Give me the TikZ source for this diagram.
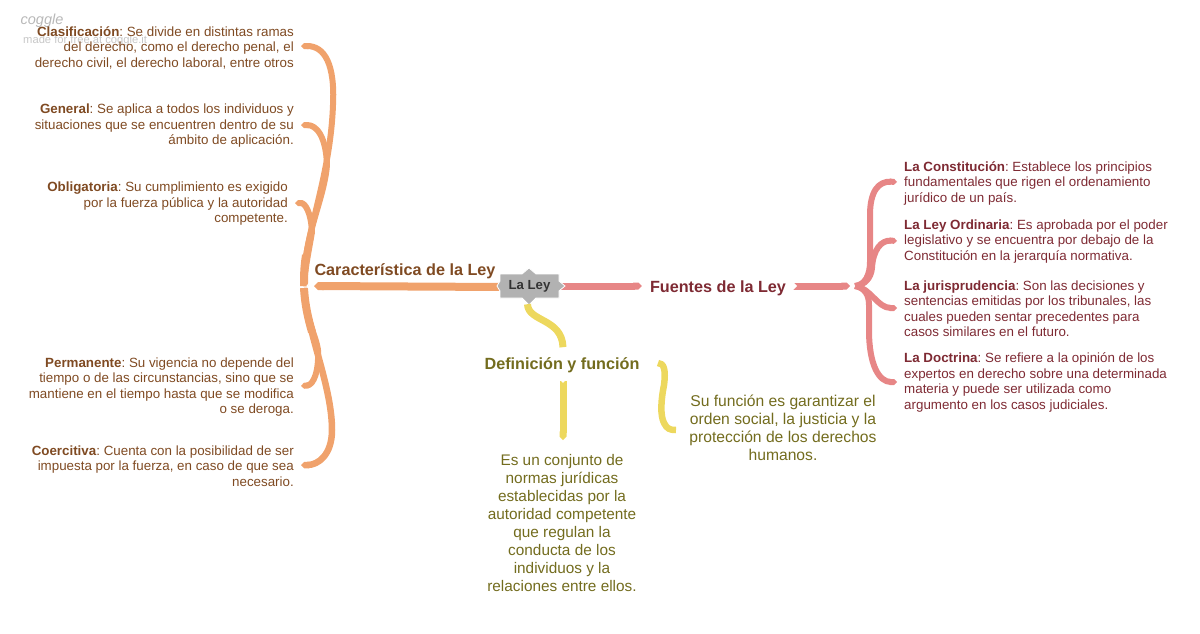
\documentclass[tikz,border=0pt]{standalone}
\usepackage{fontspec}
\setmainfont{Liberation Sans}
\usetikzlibrary{arrows.meta,calc}
\definecolor{orangeL}{HTML}{F0A26C}
\definecolor{orangeT}{HTML}{7F4A22}
\definecolor{redL}{HTML}{E78686}
\definecolor{redT}{HTML}{7E2A33}
\definecolor{yelL}{HTML}{EDD85E}
\definecolor{yelT}{HTML}{736C1E}
\tikzset{
  small/.style={inner sep=0pt,font=\fontsize{13.35}{15.5}\selectfont},
  leafL/.style={small,anchor=east,align=right,text=orangeT},
  leafR/.style={small,anchor=west,align=left,text=redT},
  yelbody/.style={inner sep=0pt,align=center,text=yelT},
  head/.style={inner sep=0pt,font=\fontsize{16.2}{19}\selectfont\bfseries},
  brO/.style={draw=orangeL,line width=6pt,{Triangle Cap[]}-,line join=round},
  brR/.style={draw=redL,line width=6pt,{Triangle Cap[]}-,line join=round},
  brY/.style={draw=yelL,line width=7pt,line join=round},
  chev/.style={draw=white,line width=1pt,fill=none}
}
\begin{document}
\frenchspacing
\begin{tikzpicture}[x=1pt,y=-1pt]
\useasboundingbox (0,0) rectangle (1200,633);
% watermark
\node[inner sep=0pt,text=black!28,font=\fontsize{14.5}{18}\selectfont\itshape] (wm1) at (42,21) {coggle};
\node[inner sep=0pt,text=black!22,anchor=west,font=\fontsize{11.2}{14}\selectfont] (wm2) at (23,41) {made for free at coggle.it};
% named end points
\coordinate (rootL) at (304,286);
\coordinate (rootR) at (855,286);
\coordinate (cCl) at (301,46);
\coordinate (cGe) at (301,125);
\coordinate (cOb) at (295,203);
\coordinate (cPe) at (301,386);
\coordinate (cCo) at (301,465);
\coordinate (cCn) at (897,182);
\coordinate (cOr) at (897,241);
\coordinate (cJu) at (897,308);
\coordinate (cDo) at (897,382);
\coordinate (cY1) at (658,363);
\coordinate (cY2) at (676,430);
% left branches
\draw[brO] (cCl) .. controls (325,46) and (335,65) .. (333,105) .. controls (331,160) and (316,205) .. (308,245) .. controls (305,260) and (304,272) .. (rootL);
\draw[brO] (cGe) .. controls (317,125) and (326,137) .. (327,165) .. controls (325,190) and (314,215) .. (308,245) .. controls (305,260) and (304,272) .. (rootL);
\draw[brO] (cOb) .. controls (305,203) and (311,212) .. (312,232) .. controls (309,250) and (305,268) .. (rootL);
\draw[brO,line width=6.5pt] (cCo) .. controls (318,465) and (332,455) .. (332,430) .. controls (332,385) and (306,330) .. (304,288);
\draw[brO] (cPe) .. controls (314,385) and (319,370) .. (318,350) .. controls (316,335) and (305,318) .. (304,288);
\draw[draw=orangeL,line width=8pt] (306,255) .. controls (304,268) and (304,276) .. (rootL);
\draw[draw=orangeL,line width=8pt] (304,288) .. controls (305,305) and (308,318) .. (312,332);
% right branches
\draw[brR] (cCn) .. controls (878,181) and (870,192) .. (870,215) -- (870,262) .. controls (870,275) and (865,285) .. (rootR);
\draw[brR] (cOr) .. controls (881,240) and (873,250) .. (872,268) .. controls (871,278) and (865,285) .. (rootR);
\draw[brR] (cJu) .. controls (877,308) and (871,288) .. (rootR);
\draw[brR] (cDo) .. controls (879,382) and (869,365) .. (869,330) -- (869,305) .. controls (869,295) and (865,288) .. (rootR);
% heads
\node[head,text=orangeT] (car) at (405,271) {Característica de la Ley};
\node[head,text=redT] (fue) at (718,288) {Fuentes de la Ley};
\node[head,text=yelT] (def) at (562,365) {Definición y función};
% central node
\coordinate (leyC) at (529.5,286);
% main connectors
\draw[draw=orangeL,line width=8pt,{Triangle Cap[]}-] ($(rootL)+(10,0)$) -- ($(leyC)+(-25,1)$);
\draw[draw=redL,line width=7pt,-{Triangle Cap[]}] ($(leyC)+(25,0)$) -- ($(fue.west)+(-8,-2)$);
\draw[draw=redL,line width=7pt,-{Triangle Cap[]}] ($(fue.east)+(7,-2)$) -- ($(rootR)+(-5,0)$);
\fill[white] (792,281) -- (797,286) -- (792,291) -- cycle;
\draw[chev] (311,281) -- (307,286) -- (311,291);
\draw[chev] (850,281) -- (854.5,286) -- (850,291);
\fill[black!30,draw=white,line width=0.8pt] (529,268) -- (536,274) -- (559,274) -- (559,281) -- (565,286) -- (559,291) -- (559,298) -- (536,298) -- (529,305) -- (522,298) -- (500,298) -- (500,291) -- (497,286) -- (500,281) -- (500,274) -- (522,274) -- cycle;
\node[minimum width=59pt,minimum height=24pt,inner sep=0pt,text=black!80,font=\fontsize{13.2}{15}\selectfont\bfseries] (ley) at (leyC) {La Ley};
% yellow
\draw[brY] ($(ley.south)+(-2,6)$) .. controls (528,322) and (562,318) .. ($(def.north)+(1,-10)$);
\draw[brY,line width=7pt,-{Triangle Cap[]}] ($(def.south)+(1,8)$) -- (563,440);
\fill[white] (559,378.5) -- (563,383) -- (567,378.5) -- cycle;
\draw[brY,line width=6.5pt] (cY1) .. controls (664,363) and (666,370) .. (664,385) .. controls (661,400) and (660,415) .. (664,423) .. controls (667,429) and (670,430) .. (cY2);
% texts
\node[leafL] (clas) at (294,47.5) {\textbf{Clasificación}: Se divide en distintas ramas\\del derecho, como el derecho penal, el\\derecho civil, el derecho laboral, entre otros};
\node[leafL] (gene) at (294,126) {\textbf{General}: Se aplica a todos los individuos y\\situaciones que se encuentren dentro de su\\ámbito de aplicación.};
\node[leafL] (obli) at (288,204) {\textbf{Obligatoria}: Su cumplimiento es exigido\\por la fuerza pública y la autoridad\\competente.};
\node[leafL] (perm) at (294,387) {\textbf{Permanente}: Su vigencia no depende del\\tiempo o de las circunstancias, sino que se\\mantiene en el tiempo hasta que se modifica\\o se deroga.};
\node[leafL] (coer) at (294,466) {\textbf{Coercitiva}: Cuenta con la posibilidad de ser\\impuesta por la fuerza, en caso de que sea\\necesario.};
\node[leafR] (cons) at (904,183) {\textbf{La Constitución}: Establece los principios\\fundamentales que rigen el ordenamiento\\jurídico de un país.};
\node[leafR] (ordi) at (904,241.5) {\textbf{La Ley Ordinaria}: Es aprobada por el poder\\legislativo y se encuentra por debajo de la\\Constitución en la jerarquía normativa.};
\node[leafR] (juri) at (904,308.5) {\textbf{La jurisprudencia}: Son las decisiones y\\sentencias emitidas por los tribunales, las\\cuales pueden sentar precedentes para\\casos similares en el futuro.};
\node[leafR] (doct) at (904,382.5) {\textbf{La Doctrina}: Se refiere a la opinión de los\\expertos en derecho sobre una determinada\\materia y puede ser utilizada como\\argumento en los casos judiciales.};
\node[yelbody,font=\fontsize{15.35}{18}\selectfont] (defi) at (562,523) {Es un conjunto de\\normas jurídicas\\establecidas por la\\autoridad competente\\que regulan la\\conducta de los\\individuos y la\\relaciones entre ellos.};
\node[yelbody,font=\fontsize{15.65}{18}\selectfont] (func) at (783,428) {Su función es garantizar el\\orden social, la justicia y la\\protección de los derechos\\humanos.};
\end{tikzpicture}
\end{document}
